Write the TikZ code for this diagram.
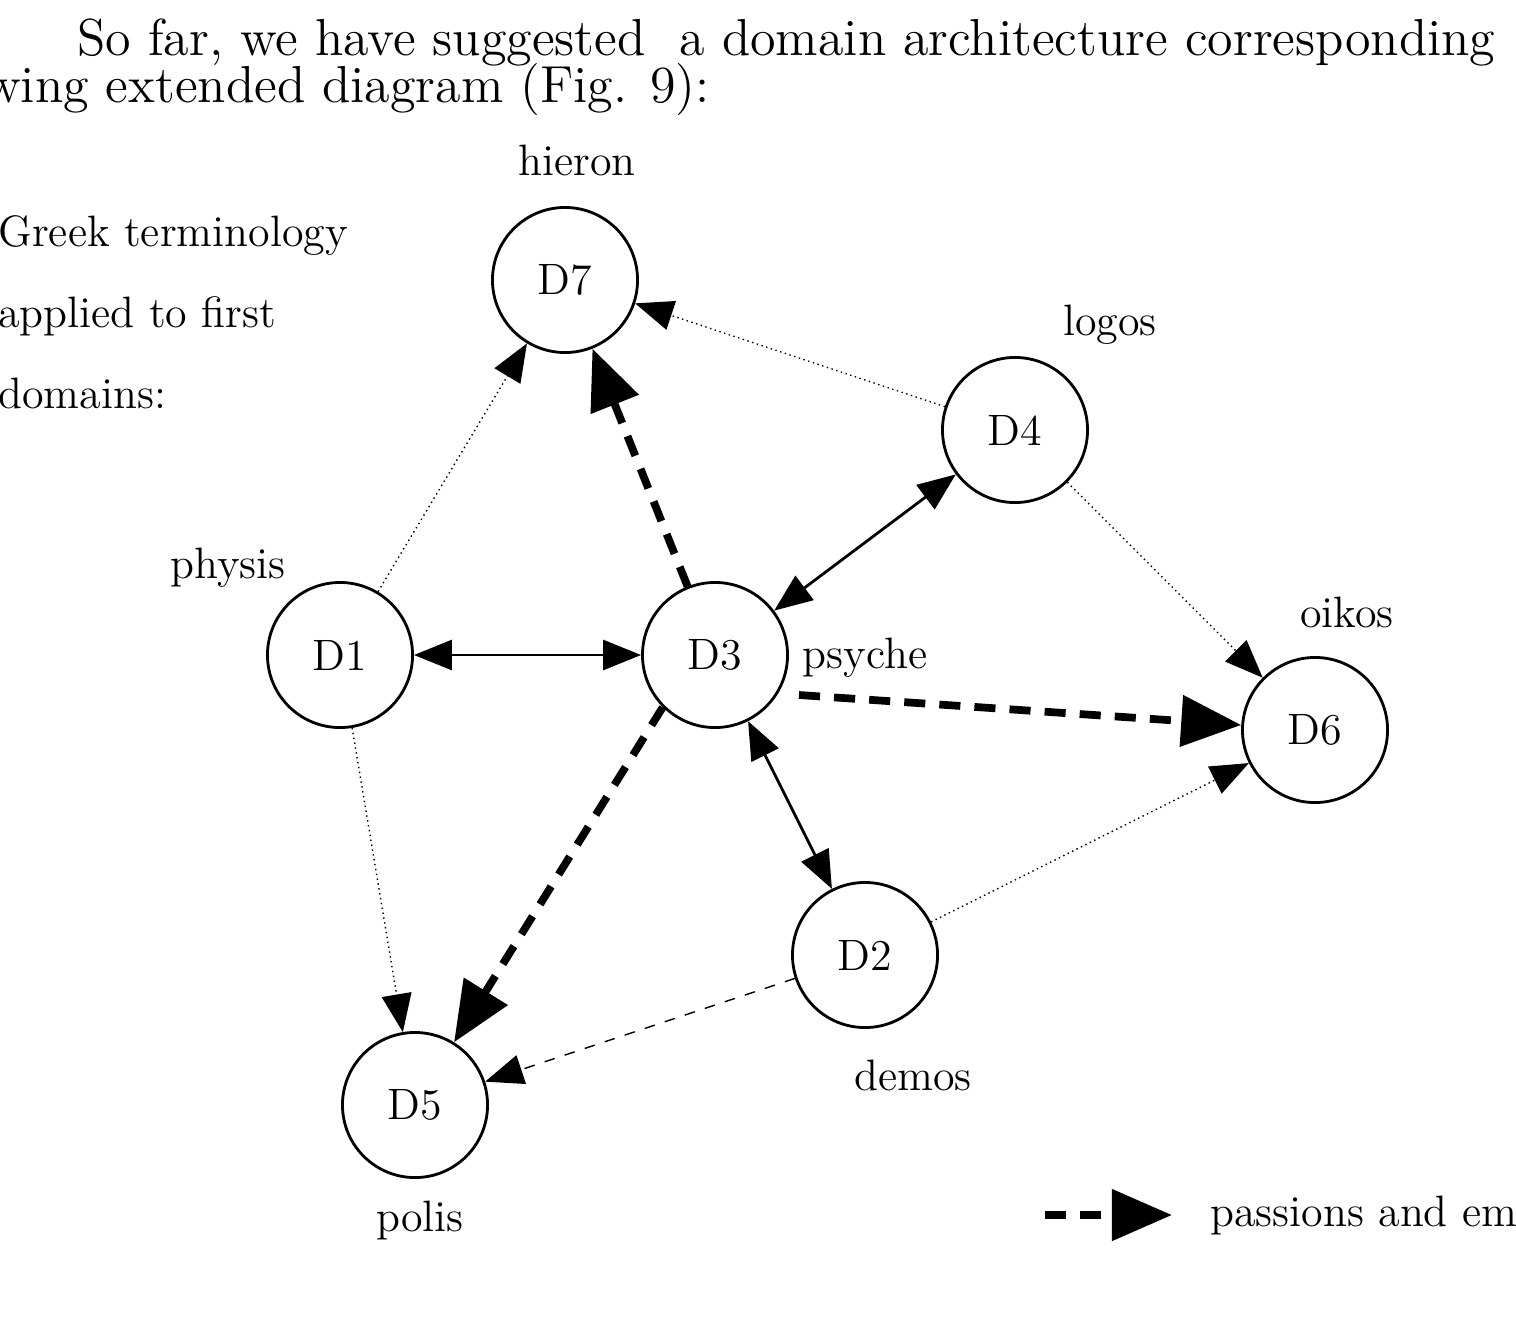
\documentclass[tikz,border=0pt]{standalone}
\usepackage{amsmath}
\usepackage{tikz}
\usetikzlibrary{arrows.meta}
\usetikzlibrary{calc}

\tikzset{
    dom/.style={draw, thick, circle, minimum size=1.45cm, inner sep=0pt, font=\fontsize{12.5}{15}\selectfont},
    lbl/.style={font=\fontsize{12.5}{15}\selectfont},
    tip/.style={-{Triangle[length=0.38cm,width=0.3cm]}},
    both/.style={{Triangle[length=0.38cm,width=0.3cm]}-{Triangle[length=0.38cm,width=0.3cm]}, thick},
    bigtip/.style={-{Triangle[length=0.6cm,width=0.5cm]}},
    weak/.style={tip, thin, densely dotted},
    passion/.style={bigtip, line width=2.2pt, dash pattern=on 6pt off 4pt},
}

\begin{document}
\begin{tikzpicture}[x=0.01cm, y=-0.01cm]
                \useasboundingbox (0,0) rectangle (1516,1324);
                \node[anchor=base west, font=\fontsize{14.8}{18}\selectfont] (head1) at (65,55) {So far, we have suggested\ \ a domain architecture corresponding};
                \node[anchor=base east, font=\fontsize{14.8}{18}\selectfont] (head2) at (722,102) {following extended diagram (Fig. 9):};
                \node[lbl, anchor=west, align=left] (greek) at (-14,312) {Greek terminology\\[8pt]applied to first\\[8pt]domains:};
                \node[dom] (D7) at (565,280) {D7};
                \node[dom] (D4) at (1015,430) {D4};
                \node[dom] (D1) at (340,655) {D1};
                \node[dom] (D3) at (715,655) {D3};
                \node[dom] (D6) at (1315,730) {D6};
                \node[dom] (D2) at (865,955) {D2};
                \node[dom] (D5) at (415,1105) {D5};
                \node[lbl] (hieron) at (577,160) {hieron};
                \node[lbl] (logos) at (1110,325) {logos};
                \node[lbl] (physis) at (228,568) {physis};
                \node[lbl] (psyche) at (865,658) {psyche};
                \node[lbl] (oikos) at (1347,612) {oikos};
                \node[lbl] (demos) at (913,1075) {demos};
                \node[lbl] (polis) at (420,1220) {polis};
                % weak links
                \draw[weak] (D1) -- (D7);
                \draw[weak] (D4) -- (D7);
                \draw[weak] (D4) -- (D6);
                \draw[weak] (D2) -- (D6);
                \draw[weak] (D1) -- (D5);
                \draw[tip, thin, dashed] (D2) -- (D5);
                % two-way links
                \draw[both] (D1) -- (D3);
                \draw[both] (D3) -- (D4);
                \draw[both] (D3) -- (D2);
                % passions
                \draw[passion] (D3) -- (D7);
                \draw[passion] (D3.south west) -- (D5);
                \draw[passion] ($(D3.east)+(10,40)$) -- (D6);
                \coordinate (legA) at (1045,1215);
                \coordinate (legB) at (1172,1215);
                \draw[passion] (legA) -- (legB);
                \node[lbl, anchor=west] (legend) at (1198,1215) {passions and emotions};
            \end{tikzpicture}
\end{document}
